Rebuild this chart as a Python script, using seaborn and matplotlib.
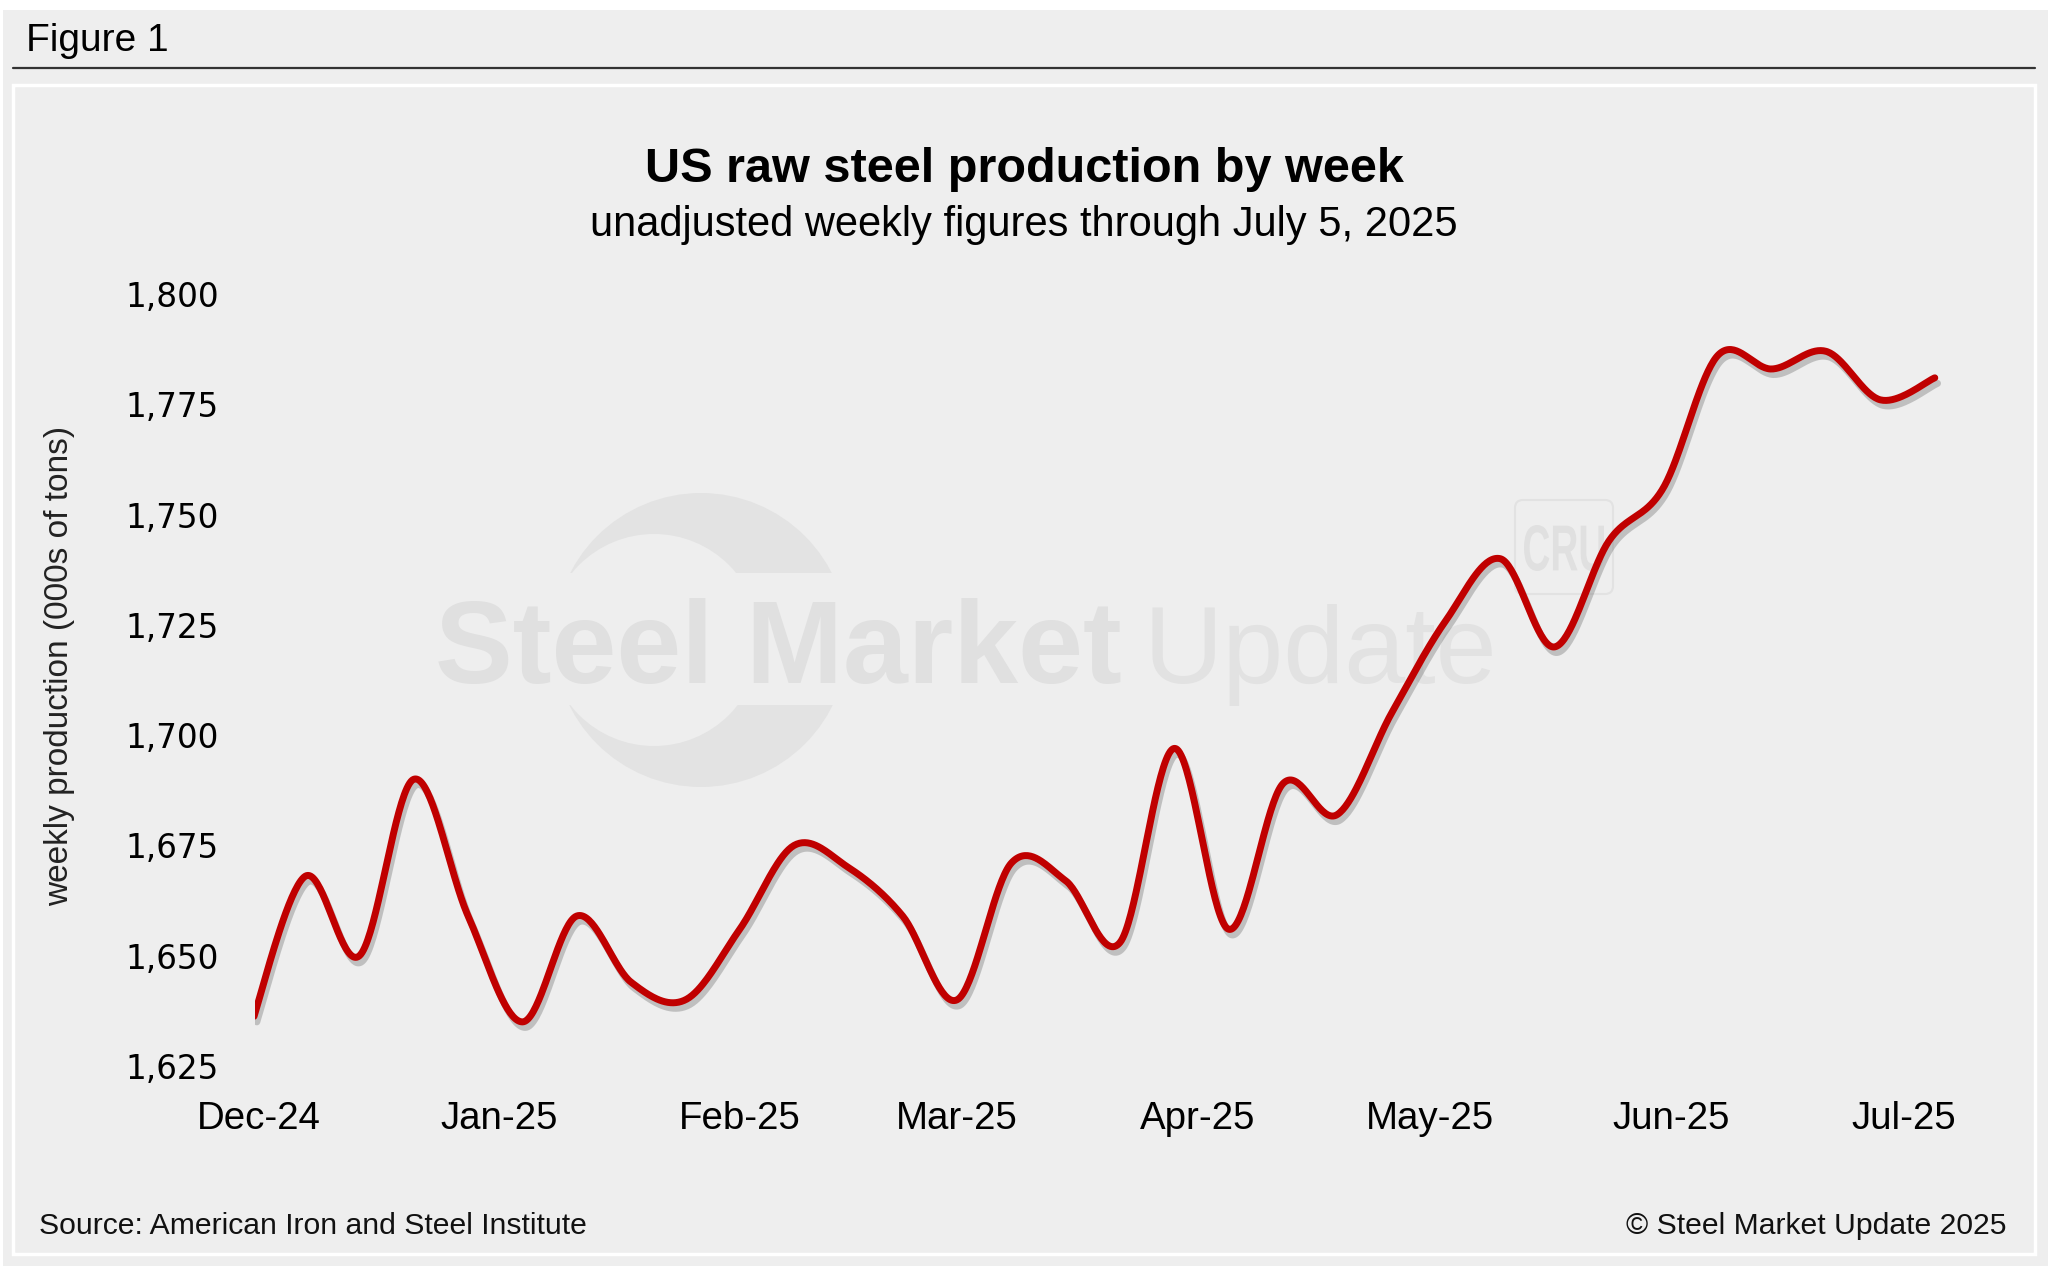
import numpy as np
import pandas as pd
import matplotlib
matplotlib.use("Agg")
import matplotlib.pyplot as plt
import matplotlib.dates as mdates
import matplotlib.patheffects as pe
from matplotlib import font_manager as fm
from matplotlib.patches import Rectangle, Circle, FancyBboxPatch, PathPatch
from matplotlib.lines import Line2D
from matplotlib.textpath import TextPath
from matplotlib.font_manager import FontProperties
from matplotlib.transforms import Affine2D
import seaborn as sns

# ---------------- data ----------------
week_ending = ["2024-11-30", "2024-12-07", "2024-12-14", "2024-12-21", "2024-12-28",
               "2025-01-04", "2025-01-11", "2025-01-18", "2025-01-25", "2025-02-01",
               "2025-02-08", "2025-02-15", "2025-02-22", "2025-03-01", "2025-03-08",
               "2025-03-15", "2025-03-22", "2025-03-29", "2025-04-05", "2025-04-12",
               "2025-04-19", "2025-04-26", "2025-05-03", "2025-05-10", "2025-05-17",
               "2025-05-24", "2025-05-31", "2025-06-07", "2025-06-14", "2025-06-21",
               "2025-06-28", "2025-07-05"]
production = [1634, 1668, 1650, 1690, 1659, 1635, 1659, 1644, 1640, 1656,
              1675, 1670, 1659, 1640, 1671, 1667, 1653, 1697, 1656, 1689,
              1682, 1705, 1726, 1740, 1720, 1744, 1756, 1786, 1783, 1787,
              1776, 1781]
y_ticks = [1625, 1650, 1675, 1700, 1725, 1750, 1775, 1800]

title = "US raw steel production by week"
subtitle = "unadjusted weekly figures through July 5, 2025"
y_label = "weekly production (000s of tons)"
source = "Source: American Iron and Steel Institute"
copyright_txt = "\u00a9 Steel Market Update 2025"

# ---------------- smoothing (Excel-like smoothed line) ----------------
def smooth(xs, ys, n=40):
    P = np.column_stack([xs, ys]).astype(float)
    P = np.vstack([P[0], P, P[-1]])
    out = []
    for i in range(1, len(P) - 2):
        p0, p1, p2, p3 = P[i - 1], P[i], P[i + 1], P[i + 2]
        t = np.linspace(0, 1, n, endpoint=False)[:, None]
        seg = 0.5 * ((2 * p1) + (-p0 + p2) * t + (2 * p0 - 5 * p1 + 4 * p2 - p3) * t ** 2
                     + (-p0 + 3 * p1 - 3 * p2 + p3) * t ** 3)
        out.append(seg)
    out.append(P[-2][None, :])
    out = np.vstack(out)
    return out[:, 0], out[:, 1]

xnum = mdates.date2num(pd.to_datetime(week_ending).to_pydatetime())
sx, sy = smooth(xnum, production)
df = pd.DataFrame({"date": sx, "tons": sy})

# ---------------- style ----------------
sns.set_theme(style="white")
names = {f.name for f in fm.fontManager.ttflist}
SANS = "Liberation Sans" if "Liberation Sans" in names else "DejaVu Sans"
plt.rcParams["font.family"] = [SANS, "DejaVu Sans"]
plt.rcParams["text.color"] = "black"

BG = "#EEEEEE"
W, H = 2048, 1266
fig = plt.figure(figsize=(W / 100, H / 100), dpi=100, facecolor="white")

# decoration layer in pixel coordinates
deco = fig.add_axes([0, 0, 1, 1], zorder=0)
deco.set_xlim(0, W)
deco.set_ylim(H, 0)
deco.axis("off")
deco.add_patch(Rectangle((3, 10), W - 3, H - 10, facecolor=BG, edgecolor="none", zorder=0))
deco.add_patch(Rectangle((13, 85), 2035 - 13, 1254 - 85, facecolor=BG, edgecolor="white",
                         lw=2.5, zorder=1))
deco.add_line(Line2D([13, 2035], [68, 68], color="#333333", lw=1.6, zorder=2))
deco.text(26, 41, "Figure 1", fontsize=28, ha="left", va="center", color="black", zorder=3)

# watermark
WM = "#E3E3E3"
deco.add_patch(Circle((701, 640), 147, facecolor=WM, edgecolor="none", zorder=2))
deco.add_patch(Circle((654, 640), 106, facecolor=BG, edgecolor="none", zorder=2.1))
deco.add_patch(Rectangle((540, 573), 320, 132, facecolor=BG, edgecolor="none", zorder=2.2))
deco.text(435, 683, "Steel Market", fontsize=84, fontweight="bold", color="#E0E0E0",
          ha="left", va="baseline", zorder=3)
deco.text(1143, 683, "Update", fontsize=79, fontweight="light", color="#E2E2E2",
          ha="left", va="baseline", zorder=3)
deco.add_patch(FancyBboxPatch((1515, 500), 98, 94, boxstyle="round,pad=0,rounding_size=8",
                              facecolor="none", edgecolor="#E2E2E2", lw=1.5, zorder=3))
# condensed "CRU" mark: squeezed text path
tp = TextPath((0, 0), "CRU", size=64, prop=FontProperties(family=SANS, weight="bold"))
bb = tp.get_extents()
sxf = 80 / bb.width
syf = 46 / bb.height
tr = (Affine2D().translate(-bb.x0 - bb.width / 2, -bb.y0 - bb.height / 2)
      .scale(sxf, -syf).translate(1564, 548))
deco.add_patch(PathPatch(tr.transform_path(tp), facecolor="#E0E0E0", edgecolor="none",
                         zorder=3))

# titles and footer
deco.text(1024, 170, title, fontsize=35, fontweight="bold", ha="center", va="center",
          color="black", zorder=3)
deco.text(1024, 225, subtitle, fontsize=30, ha="center", va="center", color="black",
          zorder=3)
deco.text(39, 1226, source, fontsize=21.7, ha="left", va="center", color="#111111", zorder=3)
deco.text(2007, 1226, copyright_txt, fontsize=21.7, ha="right", va="center", color="#111111",
          zorder=3)

# ---------------- main axes ----------------
x0 = mdates.date2num(pd.Timestamp("2024-11-30 12:00"))
x1 = mdates.date2num(pd.Timestamp("2025-07-10"))
ax = fig.add_axes([254.7 / W, (H - 1066) / H, (1973.6 - 254.7) / W, (1066 - 294) / H], zorder=10)
ax.patch.set_alpha(0)

sns.lineplot(data=df, x="date", y="tons", ax=ax, sort=False, estimator=None,
             color="#C00000", lw=5,
             path_effects=[pe.SimpleLineShadow(offset=(2, -4), shadow_color="#555555",
                                               alpha=0.3),
                           pe.Normal()])
ax.set_xlim(x0, x1)
ax.set_ylim(1625, 1800)
ax.set_yticks(y_ticks)
ax.yaxis.set_major_formatter(matplotlib.ticker.StrMethodFormatter("{x:,.0f}"))
ax.xaxis.set_major_locator(mdates.MonthLocator())
ax.xaxis.set_major_formatter(mdates.DateFormatter("%b-%y"))
for s in ax.spines.values():
    s.set_visible(False)
ax.grid(False)
ax.tick_params(axis="both", length=0)
ax.tick_params(axis="x", pad=25, labelsize=27.7, labelcolor="black")
ax.tick_params(axis="y", pad=25.7, labelsize=23.5, labelcolor="black")
for lab in ax.get_yticklabels():
    lab.set_family("DejaVu Sans")
ax.set_xlabel("")
ax.set_ylabel(y_label, fontsize=24, color="#222222")
ax.yaxis.set_label_coords(-0.1045, 0.518)

fig.savefig("out.png", dpi=100, facecolor=fig.get_facecolor())
